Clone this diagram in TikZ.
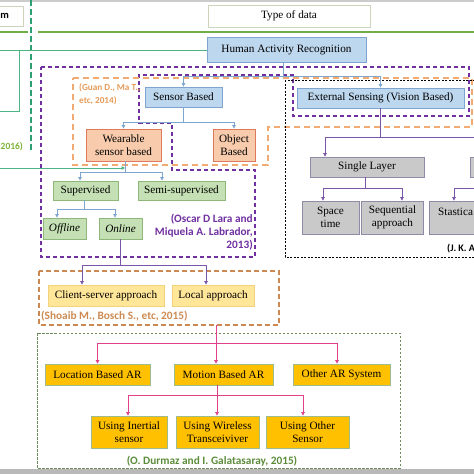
\documentclass[tikz,border=0pt]{standalone}
\usepackage{fontspec}
\setmainfont{Liberation Serif}
\newfontfamily\calfont{Carlito}
\usetikzlibrary{arrows.meta}
\definecolor{cBlueF}{HTML}{BDD7EE}
\definecolor{cBlueD}{HTML}{7FA5CF}
\definecolor{cSalF}{HTML}{F8CBAD}
\definecolor{cSalD}{HTML}{E0785A}
\definecolor{cGrnF}{HTML}{C5E0B4}
\definecolor{cGrnD}{HTML}{8DB87A}
\definecolor{cYelF}{HTML}{FFE699}
\definecolor{cYelD}{HTML}{F2D27A}
\definecolor{cGoldF}{HTML}{FFC000}
\definecolor{cGoldD}{HTML}{9DBB8D}
\definecolor{cGryF}{HTML}{C9C9C9}
\definecolor{cGryD}{HTML}{8E8AA8}
\definecolor{cTopD}{HTML}{CCD5BC}
\definecolor{cPurp}{HTML}{7030A0}
\definecolor{cPurpL}{HTML}{7A55A8}
\definecolor{cOrL}{HTML}{F0AA72}
\definecolor{cOrT}{HTML}{E59A58}
\definecolor{cOrB}{HTML}{CC8A52}
\definecolor{cTeal}{HTML}{4DB584}
\definecolor{cTealD}{HTML}{2E9F70}
\definecolor{cOlive}{HTML}{70AD47}
\definecolor{cLime}{HTML}{7DB33A}
\definecolor{cPink}{HTML}{E0418A}
\definecolor{cConnB}{HTML}{7FA6CE}
\definecolor{cDurG}{HTML}{6E8B5E}
\definecolor{cDurT}{HTML}{5B8C3A}
\tikzset{
  box/.style={draw, line width=0.8pt, inner sep=1pt, align=center,
    font=\fontsize{11.2}{12.8}\selectfont},
  topbox/.style={box, fill=white, draw=cTopD, line width=1pt},
  bluebox/.style={box, fill=cBlueF, draw=cBlueD},
  salbox/.style={box, fill=cSalF, draw=cSalD},
  grnbox/.style={box, fill=cGrnF, draw=cGrnD},
  yelbox/.style={box, fill=cYelF, draw=cYelD},
  goldbox/.style={box, fill=cGoldF, draw=cGoldD},
  grybox/.style={box, fill=cGryF, draw=cGryD},
  lnk/.style={line width=0.7pt},
  arr/.style={lnk, -{Triangle[length=3.5pt,width=3.5pt]}},
  lblue/.style={draw=cConnB},
  lpurp/.style={draw=cPurpL},
  lpink/.style={draw=cPink},
  cite/.style={font=\calfont\bfseries\fontsize{11.3}{13}\selectfont, inner sep=0},
}
\begin{document}
\begin{tikzpicture}[x=1pt,y=-1pt]
\useasboundingbox (0,0) rectangle (474,474);
\clip (0,0) rectangle (474,474);
\fill[gray!40] (0,0) rectangle (474,2);
\fill[gray!55] (0,469) rectangle (474,474);

% top strip
\node[topbox, minimum width=83, minimum height=20] (mbox) at (-18.5,16) {};
\node[font=\calfont\bfseries\fontsize{10.5}{12}\selectfont, anchor=east, inner sep=0] (mtext) at (9,16) {m};
\node[topbox, minimum width=162, minimum height=22] (tod) at (289,16) {Type of data};
\draw[cOlive, line width=2pt] (0,32) -- (28,32) (38,32) -- (474,32);
\draw[cTealD, line width=1.2pt, dash pattern=on 6pt off 3pt] (31,0) -- (31,150);

% dashed groups
\draw[cPurp, line width=1.3pt, dash pattern=on 4pt off 3pt]
  (41,67) -- (469,67) -- (469,116) -- (293,116) -- (293,75) -- (139,75) -- (139,123)
  -- (172,123) -- (172,170) -- (255,170) -- (255,257) -- (41,257) -- cycle;
\draw[cOrL, line width=1.5pt, dash pattern=on 6pt off 4pt]
  (73,78) -- (472,78) -- (472,127) -- (268,127) -- (268,165) -- (73,165) -- cycle;
\draw[black, line width=0.9pt, dash pattern=on 2pt off 1.5pt] (285,80) rectangle (490,257);
\draw[cOrB, line width=1.1pt, dash pattern=on 5pt off 3pt] (39,271) rectangle (279,325);
\draw[cDurG, line width=0.9pt, dash pattern=on 2.5pt off 1.5pt] (37,333) rectangle (400,468);

% nodes
\node[bluebox, minimum width=159, minimum height=25] (har) at (286.5,49.5) {Human Activity Recognition};
\node[bluebox, minimum width=77, minimum height=20] (sensor) at (183.5,97) {Sensor Based};
\node[bluebox, minimum width=167, minimum height=20] (ext) at (380.5,98) {External Sensing (Vision Based)};
\node[salbox, minimum width=75, minimum height=32] (wear) at (123.5,145) {Wearable\\sensor based};
\node[salbox, minimum width=42, minimum height=32] (obj) at (234,145) {Object\\Based};
\node[grnbox, minimum width=65, minimum height=19] (sup) at (85.5,190.5) {Supervised};
\node[grnbox, minimum width=87, minimum height=19] (semi) at (181.5,190.5) {Semi-supervised};
\node[grnbox, minimum width=43, minimum height=21] (off) at (64.5,228.5) {\itshape Offline};
\node[grnbox, minimum width=43, minimum height=21] (on) at (120.5,228.5) {\itshape Online};
\node[yelbox, minimum width=116, minimum height=21] (client) at (106,295.5) {Client-server approach};
\node[yelbox, minimum width=82, minimum height=21] (local) at (213,295.5) {Local approach};
\node[goldbox, minimum width=105, minimum height=21] (loc) at (97.5,374.5) {Location Based AR};
\node[goldbox, minimum width=99, minimum height=21] (mot) at (223.5,374.5) {Motion Based AR};
\node[goldbox, minimum width=97, minimum height=21] (oth) at (341.5,374.5) {Other AR System};
\node[goldbox, minimum width=76, minimum height=32] (iner) at (129,432) {Using Inertial\\sensor};
\node[goldbox, minimum width=83, minimum height=32] (wire) at (217.5,432) {Using Wireless\\Transceiviver};
\node[goldbox, minimum width=83, minimum height=32] (osen) at (307.5,432) {Using Other\\Sensor};
\node[grybox, minimum width=114, minimum height=20] (single) at (367,167) {Single Layer};
\node[grybox, minimum width=90, minimum height=20] (hier) at (515,167) {};
\node[grybox, minimum width=57, minimum height=33] (space) at (330.5,217.5) {Space\\time};
\node[grybox, minimum width=62, minimum height=33] (seq) at (392.5,217.5) {Sequential\\approach};
\node[grybox, minimum width=91, minimum height=33] (stat) at (474.5,217.5) {};
\node[font=\fontsize{11.2}{12.8}\selectfont, anchor=west, inner sep=0] (stattext) at (438,211.5) {Stastica};

% citation texts
\node[cite, text=cOrT, font=\calfont\bfseries\fontsize{9.2}{13}\selectfont, anchor=west] (guan1) at (79,88) {(Guan D., Ma T.,};
\node[cite, text=cOrT, font=\calfont\bfseries\fontsize{9.2}{13}\selectfont, anchor=west] (guan2) at (79,101) {etc, 2014)};
\node[cite, text=cPurp, align=right, anchor=north east] (oscar) at (253,214) {(Oscar D Lara and\\Miquela A. Labrador,\\2013)};
\node[cite, text=cOrB, anchor=west] (shoaib) at (41,316) {(Shoaib M., Bosch S., etc, 2015)};
\node[cite, text=cDurT] (durmaz) at (212,461) {(O. Durmaz and I. Galatasaray, 2015)};
\node[cite, text=cLime, font=\calfont\bfseries\fontsize{9.5}{12}\selectfont, anchor=west] (y2016) at (0.5,147) {2016)};
\node[cite, text=black, font=\calfont\bfseries\fontsize{10}{12}\selectfont, anchor=west] (jk) at (447,249) {(J. K. A};

% green connectors on the left
\coordinate (g0) at (0,50);
\coordinate (gA) at (19,50);
\coordinate (gB) at (0,111);
\coordinate (gC) at (0,168);
\draw[cTeal, lnk] (g0) -- (g0 -| har.west);
\draw[cTeal, lnk] (gA) |- (gB);

% HAR branch
\coordinate (j1) at (283,76);
\draw[lnk, lblue] (j1 |- har.south) -- (j1);
\draw[arr, lblue] (j1) -| (sensor.north);
\draw[arr, lblue] (j1) -| (ext.north);

% sensor branch
\coordinate (j2) at (183.5,122);
\draw[lnk, lblue] (sensor.south) -- (j2);
\draw[arr, lblue] (j2) -| (wear.north);
\draw[arr, lblue] (j2) -| (obj.north);

% wearable branch
\coordinate (j3) at (125,172);
\draw[lnk, lblue] (j3 |- wear.south) -- (j3);
\draw[arr, lblue] (j3) -| ([xshift=-5.5pt]sup.north);
\draw[arr, lblue] (j3) -| ([xshift=-19.5pt]semi.north);
\draw[arr, cTeal] (gC) -- (gC -| j3);

% supervised branch
\coordinate (j4) at (84,209);
\draw[lnk, lblue] (j4 |- sup.south) -- (j4);
\draw[arr, lblue] (j4) -| ([xshift=-7.5pt]off.north);
\draw[arr, lblue] (j4) -| ([xshift=-5.5pt]on.north);

% online branch
\coordinate (j5) at (120.5,265);
\draw[lnk, lpurp] (on.south) -- (j5);
\draw[arr, lpurp] (j5) -| ([xshift=-24pt]client.north);
\draw[arr, lpurp] (j5) -| ([xshift=-7pt]local.north);

% AR branch
\coordinate (j6) at (216,343);
\coordinate (j6t) at (216,325);
\draw[arr, lpink] (j6t) -- ([xshift=-7.5pt]mot.north);
\draw[arr, lpink] (j6) -| (loc.north);
\draw[arr, lpink] (j6) -| ([xshift=-4.5pt]oth.north);

% motion branch
\coordinate (j7) at (217,395);
\draw[lnk, lpink] (j7 |- mot.south) -- (j7);
\draw[arr, lpink] (j7) -| ([xshift=-1pt]iner.north);
\draw[arr, lpink] (j7) -- (j7 |- wire.north);
\draw[arr, lpink] (j7) -| ([xshift=-4.5pt]osen.north);

% external branch
\coordinate (j8) at (380,137);
\coordinate (j8r) at (480,137);
\draw[lnk, lpurp] (j8 |- ext.south) -- (j8);
\draw[arr, lpurp] (j8) -| ([xshift=-42pt]single.north);
\draw[lnk, lpurp] (j8) -- (j8r);

% single layer branch
\coordinate (j9) at (365,188);
\draw[lnk, lpurp] (j9 |- single.south) -- (j9);
\draw[arr, lpurp] (j9) -| ([xshift=-7.5pt]space.north);
\draw[arr, lpurp] (j9) -| ([xshift=9.5pt]seq.north);
\coordinate (j10) at (480,188);
\draw[arr, lpurp] (j10) -| ([xshift=-20.5pt]stat.north);
\end{tikzpicture}
\end{document}
